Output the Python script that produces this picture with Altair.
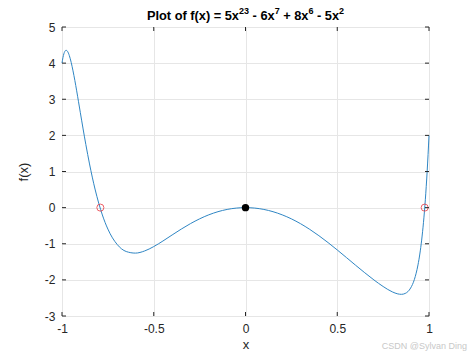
import altair as alt
import pandas as pd

# curve values
xs = [-1.0, -0.995, -0.99, -0.985, -0.98, -0.975, -0.97, -0.96, -0.95, -0.93, -0.91, -0.9, -0.87, -0.85,
      -0.82, -0.8, -0.78, -0.75, -0.7, -0.65, -0.6, -0.55, -0.5, -0.45, -0.4, -0.35, -0.3, -0.2, -0.1,
      0.0, 0.1, 0.2, 0.3, 0.35, 0.4, 0.45, 0.5, 0.55, 0.6, 0.65, 0.7, 0.75, 0.8, 0.83, 0.85, 0.87, 0.9,
      0.92, 0.94, 0.95, 0.96, 0.965, 0.97, 0.98, 0.985, 0.99, 0.995, 1.0]
ys = [4.0, 4.150, 4.256, 4.321, 4.352, 4.352, 4.326, 4.208, 4.021, 3.520, 2.932, 2.628, 1.745, 1.209,
      0.514, 0.126, -0.203, -0.594, -1.016, -1.215, -1.259, -1.200, -1.078, -0.924, -0.757, -0.594, -0.443, -0.199, -0.050,
      0.0, -0.050, -0.200, -0.445, -0.602, -0.777, -0.968, -1.172, -1.382, -1.595, -1.803, -2.002, -2.183, -2.332, -2.388, -2.400, -2.376, -2.225,
      -1.994, -1.585, -1.285, -0.899, -0.668, -0.407, 0.218, 0.590, 1.007, 1.475, 2.0]

root_x = [-0.791, 0.9765]
root_y = [0.0, 0.0]
center_x = [0.0]
center_y = [0.0]

x_ticks = [-1, -0.5, 0, 0.5, 1]
y_ticks = [-3, -2, -1, 0, 1, 2, 3, 4, 5]

# title pieces: (text, is_superscript)
title_parts = [("Plot of f(x) = 5x", False), ("23", True), (" - 6x", False), ("7", True),
               (" + 8x", False), ("6", True), (" - 5x", False), ("2", True)]

W, H = 367, 289
FONT = "Liberation Sans"

curve = pd.DataFrame({"x": xs, "y": ys})
roots = pd.DataFrame({"x": root_x, "y": root_y})
center = pd.DataFrame({"x": center_x, "y": center_y})
xt = pd.DataFrame({"x": x_ticks})
yt = pd.DataFrame({"y": y_ticks})

xscale = alt.Scale(domain=[-1, 1], nice=False, zero=False)
yscale = alt.Scale(domain=[-3, 5], nice=False, zero=False)

xaxis = alt.Axis(values=x_ticks, title="x", grid=True, gridColor="#e6e6e6", ticks=False,
                 domain=False, labelFont=FONT, labelFontSize=12, labelColor="#262626",
                 labelPadding=7, titleFont=FONT, titleFontSize=13, titleFontWeight="normal",
                 titleColor="#262626", titlePadding=4, labelFlush=False, labelOverlap=False,
                 labelExpr="'' + datum.value")
yaxis = alt.Axis(values=y_ticks, title="f(x)", grid=True, gridColor="#e6e6e6", ticks=False,
                 domain=False, labelFont=FONT, labelFontSize=12, labelColor="#262626",
                 labelPadding=7, titleFont=FONT, titleFontSize=13, titleFontWeight="normal",
                 titleColor="#262626", titlePadding=14, labelFlush=False, labelOverlap=False,
                 labelExpr="'' + datum.value")

X = alt.X("x:Q", scale=xscale, axis=xaxis, title="x")
Y = alt.Y("y:Q", scale=yscale, axis=yaxis, title="f(x)")

line = alt.Chart(curve).mark_line(color="#2f86c4", strokeWidth=1, interpolate="monotone").encode(
    x=X, y=Y)

root_pts = alt.Chart(roots).mark_point(shape="circle", filled=False, color="#e8202a",
                                       size=50, strokeWidth=1).encode(x=X, y=Y)

center_pt = alt.Chart(center).mark_point(shape="circle", filled=True, color="black",
                                         size=55, opacity=1).encode(x=X, y=Y)

# inward tick marks (bottom/top and left/right)
xt_bottom = alt.Chart(xt).mark_rule(color="#262626", strokeWidth=1).encode(
    x=X, y=alt.value(H), y2=alt.value(H - 4))
xt_top = alt.Chart(xt).mark_rule(color="#262626", strokeWidth=1).encode(
    x=X, y=alt.value(0), y2=alt.value(4))
yt_left = alt.Chart(yt).mark_rule(color="#262626", strokeWidth=1).encode(
    y=Y, x=alt.value(0), x2=alt.value(4))
yt_right = alt.Chart(yt).mark_rule(color="#262626", strokeWidth=1).encode(
    y=Y, x=alt.value(W), x2=alt.value(W - 4))

watermark = alt.Chart(pd.DataFrame({"s": ["CSDN @Sylvan Ding"]})).mark_text(
    font=FONT, fontSize=9, color="#c8c8c8", align="right", baseline="middle").encode(
    text="s:N", x=alt.value(W + 38), y=alt.value(H + 30))

# title composed of normal and superscript pieces (Arial/Liberation Sans Bold widths, per 1000 em)
CW = {"P": 667, "l": 278, "o": 611, "t": 333, " ": 278, "f": 333, "(": 333,
      ")": 333, "x": 556, "=": 584, "+": 584, "-": 333}
MAIN, SUP = 12.8, 9.0


def text_width(s, fs):
    return sum(CW.get(c, 556) for c in s) * fs / 1000.0


widths = [text_width(t, SUP if s else MAIN) for t, s in title_parts]
total = sum(widths)
cursor = W / 2 - total / 2
title_layers = []
for (txt, sup), w in zip(title_parts, widths):
    fs = SUP if sup else MAIN
    stripped = txt.lstrip(" ")
    lead = text_width(txt[:len(txt) - len(stripped)], fs)
    title_layers.append(
        alt.Chart(pd.DataFrame({"s": [stripped]})).mark_text(
            font=FONT, fontSize=fs, fontWeight="bold", color="black",
            align="left", baseline="alphabetic").encode(
            text="s:N", x=alt.value(cursor + lead), y=alt.value(-13 if sup else -7))
    )
    cursor += w

chart = alt.layer(line, root_pts, center_pt, xt_bottom, xt_top, yt_left, yt_right, watermark,
                  *title_layers).properties(
    width=W, height=H,
    autosize=alt.AutoSizeParams(type="none"),
    padding={"left": 62, "top": 27, "right": 45, "bottom": 39},
).configure_view(stroke="#262626", strokeWidth=1).configure(background="white")

chart.save("out.html", embed_options={"renderer": "svg", "actions": False})
